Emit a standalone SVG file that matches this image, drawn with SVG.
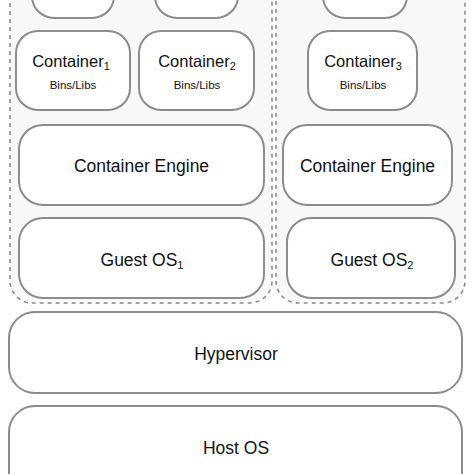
<svg xmlns="http://www.w3.org/2000/svg" width="474" height="474" viewBox="0 0 474 474">
<style>
.box{fill:#fff;stroke:#8c8c8c;stroke-width:2}
.vm{fill:#f8f8f8;stroke:#8c8c8c;stroke-width:1.6;stroke-dasharray:4 4}
text{font-family:"Liberation Sans",Arial,sans-serif;fill:#111;text-anchor:middle}
.t{font-size:17.5px}
.s{font-size:16.5px}
.sm{font-size:11.5px}
.sub{font-size:11px}
</style>
<rect width="474" height="474" fill="#fff"/>
<g id="vm1"><rect class="vm" x="10" y="-40" width="262" height="343" rx="22"/></g>
<g id="vm2"><rect class="vm" x="276" y="-40" width="189" height="343" rx="22"/></g>
<g id="app1"><rect class="box" x="32" y="-60" width="82" height="78" rx="22"/></g>
<g id="app2"><rect class="box" x="155" y="-60" width="83" height="78" rx="22"/></g>
<g id="app3"><rect class="box" x="323" y="-60" width="84" height="78" rx="22"/></g>
<g id="container1"><rect class="box" x="16" y="31" width="114" height="79" rx="22"/>
<text class="s" x="71" y="67">Container<tspan class="sub" dy="3">1</tspan></text>
<text class="sm" x="73" y="89">Bins/Libs</text></g>
<g id="container2"><rect class="box" x="139" y="31" width="115" height="79" rx="22"/>
<text class="s" x="197" y="67">Container<tspan class="sub" dy="3">2</tspan></text>
<text class="sm" x="197" y="89">Bins/Libs</text></g>
<g id="container3"><rect class="box" x="308" y="31" width="109" height="79" rx="22"/>
<text class="s" x="363" y="67">Container<tspan class="sub" dy="3">3</tspan></text>
<text class="sm" x="363" y="89">Bins/Libs</text></g>
<g id="engine1"><rect class="box" x="19" y="125" width="245" height="80" rx="24"/>
<text class="t" x="141.5" y="172">Container Engine</text></g>
<g id="engine2"><rect class="box" x="283" y="125" width="169" height="80" rx="24"/>
<text class="t" x="367.5" y="172">Container Engine</text></g>
<g id="guest1"><rect class="box" x="19" y="218" width="245" height="80" rx="24"/>
<text class="t" x="142" y="266">Guest OS<tspan class="sub" dy="3">1</tspan></text></g>
<g id="guest2"><rect class="box" x="287" y="218" width="168" height="80" rx="24"/>
<text class="t" x="372" y="266">Guest OS<tspan class="sub" dy="3">2</tspan></text></g>
<g id="hypervisor"><rect class="box" x="9" y="312" width="453" height="81" rx="26"/>
<text class="t" x="236" y="360">Hypervisor</text></g>
<g id="hostos"><rect class="box" x="9" y="406" width="453" height="100" rx="26"/>
<text class="t" x="236" y="454">Host OS</text></g>
<g id="connectors"></g>
</svg>
